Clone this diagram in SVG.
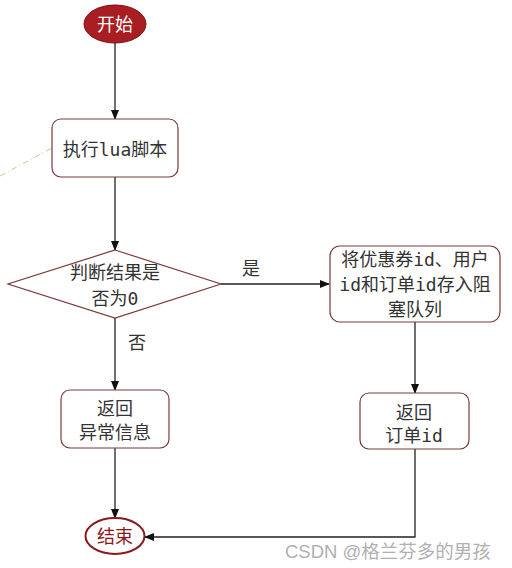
<svg xmlns="http://www.w3.org/2000/svg" width="512" height="568" viewBox="0 0 512 568">
<defs>
<marker id="arr" markerWidth="10" markerHeight="10" refX="9" refY="5" orient="auto" markerUnits="userSpaceOnUse">
<path d="M0,1 L10,5 L0,9 Z" fill="#111"/>
</marker>
</defs>
<style>
.box{fill:#fff;stroke:#7a3a3a;stroke-width:1.2}
.t{font-family:"DejaVu Sans Mono","Noto Sans CJK SC",monospace;font-size:18px;fill:#333;text-anchor:middle;dominant-baseline:central}
.c{fill:none;stroke:#222;stroke-width:1.3}
</style>
<rect width="512" height="568" fill="#fff"/>
<line x1="0" y1="176" x2="52" y2="148" stroke="#c8c890" stroke-width="1" stroke-dasharray="6,3,1,3"/>
<g id="connectors">
<line class="c" x1="115" y1="43" x2="115" y2="119" marker-end="url(#arr)"/>
<line class="c" x1="115" y1="177" x2="115" y2="250" marker-end="url(#arr)"/>
<line class="c" x1="221" y1="284" x2="329" y2="284" marker-end="url(#arr)"/>
<line class="c" x1="115" y1="318" x2="115" y2="390" marker-end="url(#arr)"/>
<line class="c" x1="415" y1="322" x2="415" y2="393" marker-end="url(#arr)"/>
<line class="c" x1="115" y1="448" x2="115" y2="518" marker-end="url(#arr)"/>
<polyline class="c" points="415,449 415,537 145,537" marker-end="url(#arr)"/>
<text class="t" x="251" y="268">是</text>
<text class="t" x="137" y="342">否</text>
</g>
<g id="start">
<ellipse cx="115" cy="24" rx="31" ry="19" fill="#a91e22" stroke="#7a1010" stroke-width="1"/>
<text class="t" x="115" y="24" style="fill:#fff">开始</text>
</g>
<g id="lua">
<rect class="box" x="52" y="119" width="126" height="58" rx="9"/>
<text class="t" x="115" y="149">执行lua脚本</text>
</g>
<g id="decision">
<polygon class="box" points="115,250 221,284 115,318 8,284"/>
<text class="t" x="115" y="272">判断结果是</text>
<text class="t" x="115" y="298">否为0</text>
</g>
<g id="queue">
<rect class="box" x="330" y="246" width="170" height="76" rx="10"/>
<text class="t" x="415" y="259">将优惠券id、用户</text>
<text class="t" x="415" y="284">id和订单id存入阻</text>
<text class="t" x="415" y="309">塞队列</text>
</g>
<g id="error">
<rect class="box" x="61" y="390" width="108" height="58" rx="9"/>
<text class="t" x="115" y="408">返回</text>
<text class="t" x="115" y="432">异常信息</text>
</g>
<g id="orderid">
<rect class="box" x="360" y="393" width="109" height="56" rx="9"/>
<text class="t" x="414" y="412">返回</text>
<text class="t" x="414" y="435">订单id</text>
</g>
<g id="end">
<ellipse cx="115" cy="536" rx="29.5" ry="18" fill="#fff" stroke="#8b1a1a" stroke-width="2"/>
<text class="t" x="115" y="536" style="fill:#8b1a1a">结束</text>
</g>
<text x="285" y="558" font-family="'Liberation Sans','Noto Sans CJK SC',sans-serif" font-size="18.5" fill="#b0b0b0">CSDN @格兰芬多的男孩</text>
</svg>
